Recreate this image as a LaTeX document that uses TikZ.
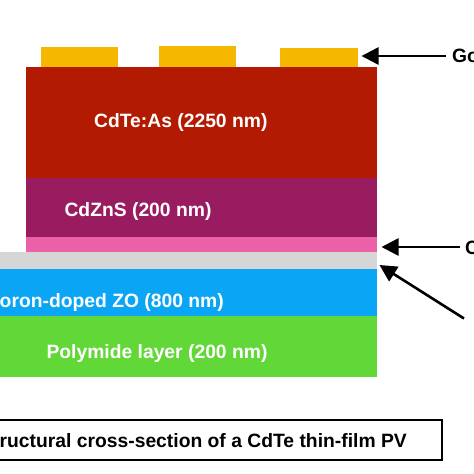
\documentclass[tikz,border=0pt]{standalone}
\usepackage{fontspec}
\setmainfont{Liberation Sans}
\usetikzlibrary{arrows.meta}
\definecolor{goldc}{RGB}{245,183,0}
\definecolor{redc}{RGB}{178,26,2}
\definecolor{purplec}{RGB}{154,28,96}
\definecolor{pinkc}{RGB}{236,96,168}
\definecolor{grayc}{RGB}{214,214,214}
\definecolor{bluec}{RGB}{10,166,245}
\definecolor{greenc}{RGB}{98,215,56}
\tikzset{
  layer/.style={rectangle, draw=none, inner sep=0pt, outer sep=0pt, anchor=north west},
  lbl/.style={text=white, font=\fontsize{19.3}{23}\selectfont\bfseries, inner sep=0pt},
  side/.style={text=black, font=\fontsize{19.3}{23}\selectfont\bfseries, inner sep=0pt, anchor=west},
  arr/.style={draw=black, line width=2.6pt, -{Triangle[length=17pt,width=17pt]}},
}
\begin{document}
\begin{tikzpicture}[x=1pt,y=-1pt]
\useasboundingbox (0,0) rectangle (474,474);
\clip (0,0) rectangle (474,474);
% gold contacts
\node[layer, fill=goldc, minimum width=77.3pt, minimum height=20.3pt] (gold1) at (40.7,47) {};
\node[layer, fill=goldc, minimum width=77pt, minimum height=21.3pt] (gold2) at (159,46) {};
\node[layer, fill=goldc, minimum width=77.7pt, minimum height=19.8pt] (gold3) at (280,47.5) {};
% layers
\node[layer, fill=redc, minimum width=351pt, minimum height=111pt] (red) at (26,67.3) {};
\node[layer, fill=purplec, minimum width=351pt, minimum height=58.4pt] (purple) at (26,178.3) {};
\node[layer, fill=pinkc, minimum width=351pt, minimum height=15pt] (pink) at (26,236.7) {};
\node[layer, fill=grayc, minimum width=377pt, minimum height=17.3pt] (gray) at (0,251.7) {};
\node[layer, fill=bluec, minimum width=377pt, minimum height=47pt] (blue) at (0,269) {};
\node[layer, fill=greenc, minimum width=377pt, minimum height=61.3pt] (green) at (0,316) {};
% labels
\node[lbl] (redlbl) at (180.8,122.7) {CdTe:As (2250 nm)};
\node[lbl] (purplelbl) at (138,212) {CdZnS (200 nm)};
\node[lbl, anchor=east] (bluelbl) at (224,302.7) {oron-doped ZO (800 nm)};
\node[lbl] (greenlbl) at (157,354) {Polymide layer (200 nm)};
% caption
\node[layer, draw=black, line width=2pt, minimum width=447pt, minimum height=40pt] (capbox) at (-5,420) {};
\node[side, anchor=east] (caption) at (407,440.5) {ructural cross-section of a CdTe thin-film PV};
% side labels and arrows
\node[side] (golabel) at (452,55.5) {Go};
\node[side] (clabel) at (465,247.5) {C};
\coordinate (goldtail) at (446,56);
\coordinate (goldtip) at (361.5,56);
\coordinate (pinktail) at (460,247);
\coordinate (pinktip) at (381.5,247);
\coordinate (graytail) at (464,318.5);
\coordinate (graytip) at (379.5,265);
\draw[arr] (goldtail) -- (goldtip);
\draw[arr] (pinktail) -- (pinktip);
\draw[arr] (graytail) -- (graytip);
\end{tikzpicture}
\end{document}
